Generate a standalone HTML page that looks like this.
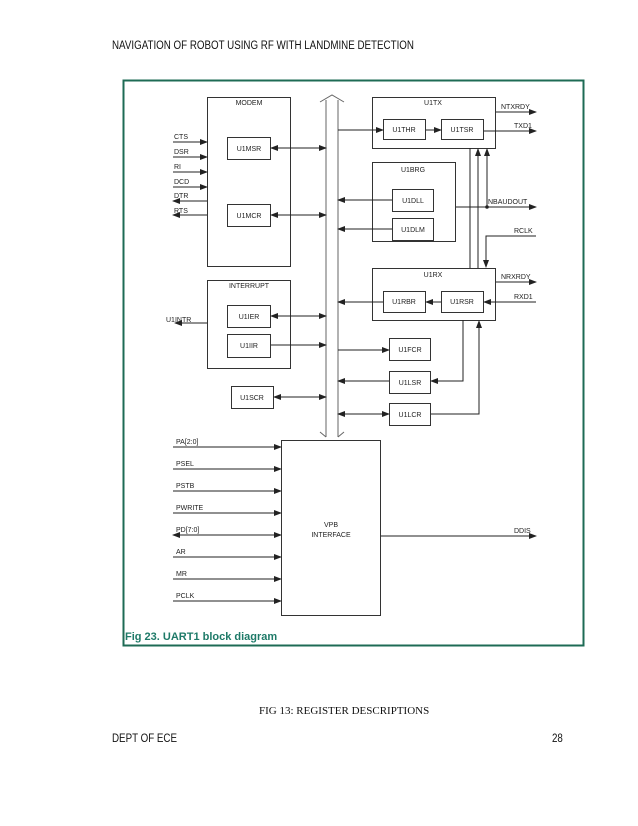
<!DOCTYPE html>
<html><head><style>
body{margin:0;width:638px;height:826px;background:#fff;position:relative;overflow:hidden}
.t{position:absolute;font-family:"Liberation Sans",sans-serif;font-size:11px;color:#111;white-space:nowrap}
.c{transform:scaleX(0.85);transform-origin:0 0}
</style></head><body>
<div class="t c" style="left:112px;top:40px;font-size:11.5px">NAVIGATION OF ROBOT USING RF WITH LANDMINE DETECTION</div>
<div class="t" style="left:259px;top:705px;font-family:'Liberation Serif',serif;font-size:11px">FIG 13: REGISTER DESCRIPTIONS</div>
<div class="t c" style="left:112px;top:733px;font-size:11.5px">DEPT OF ECE</div>
<div class="t c" style="left:552px;top:733px;font-size:11.5px">28</div>
<svg width="638" height="826" style="position:absolute;left:0;top:0" font-family="Liberation Sans,sans-serif" font-size="7" fill="#222">
<defs>
<marker id="a" markerWidth="8" markerHeight="6" refX="7" refY="3" orient="auto" markerUnits="userSpaceOnUse"><path d="M0,0L8,3L0,6z" fill="#222"/></marker>
<marker id="b" markerWidth="8" markerHeight="6" refX="1" refY="3" orient="auto" markerUnits="userSpaceOnUse"><path d="M8,0L0,3L8,6z" fill="#222"/></marker>
</defs>
<rect x="123.5" y="80.5" width="460" height="565" fill="none" stroke="#1e6b55" stroke-width="2"/>
<text x="125" y="640" font-size="11" font-weight="bold" fill="#1e7a68">Fig 23. UART1 block diagram</text>
<g stroke="#333" stroke-width="1" fill="none">
<path d="M326,437V100 M338,437V100 M320,102L332,95L344,102" stroke="#666"/>
<path d="M320,432L326,437 M344,432L338,437" stroke="#666"/>
<rect x="207.5" y="97.5" width="83" height="169"/>
<rect x="227.5" y="137.5" width="43" height="22"/>
<rect x="227.5" y="204.5" width="43" height="22"/>
<rect x="207.5" y="280.5" width="83" height="88"/>
<rect x="227.5" y="305.5" width="43" height="22"/>
<rect x="227.5" y="334.5" width="43" height="23"/>
<rect x="231.5" y="386.5" width="42" height="22"/>
<rect x="372.5" y="97.5" width="123" height="51"/>
<rect x="383.5" y="119.5" width="42" height="20"/>
<rect x="441.5" y="119.5" width="42" height="20"/>
<rect x="372.5" y="162.5" width="83" height="79"/>
<rect x="392.5" y="189.5" width="41" height="22"/>
<rect x="392.5" y="218.5" width="41" height="22"/>
<rect x="372.5" y="268.5" width="123" height="52"/>
<rect x="383.5" y="291.5" width="42" height="21"/>
<rect x="441.5" y="291.5" width="42" height="21"/>
<rect x="389.5" y="338.5" width="41" height="22"/>
<rect x="389.5" y="371.5" width="41" height="22"/>
<rect x="389.5" y="403.5" width="41" height="22"/>
<rect x="281.5" y="440.5" width="99" height="175"/>
</g>
<g stroke="#222" stroke-width="1" fill="none">
<line x1="173" y1="142" x2="207" y2="142" marker-end="url(#a)"/>
<line x1="173" y1="157" x2="207" y2="157" marker-end="url(#a)"/>
<line x1="173" y1="172" x2="207" y2="172" marker-end="url(#a)"/>
<line x1="173" y1="187" x2="207" y2="187" marker-end="url(#a)"/>
<line x1="207" y1="201" x2="173" y2="201" marker-end="url(#a)"/>
<line x1="207" y1="215" x2="173" y2="215" marker-end="url(#a)"/>
<line x1="207" y1="323" x2="175" y2="323" marker-end="url(#a)"/>
<line x1="271" y1="148" x2="326" y2="148" marker-start="url(#b)" marker-end="url(#a)"/>
<line x1="271" y1="215" x2="326" y2="215" marker-start="url(#b)" marker-end="url(#a)"/>
<line x1="271" y1="316" x2="326" y2="316" marker-start="url(#b)" marker-end="url(#a)"/>
<line x1="271" y1="345" x2="326" y2="345" marker-end="url(#a)"/>
<line x1="274" y1="397" x2="326" y2="397" marker-start="url(#b)" marker-end="url(#a)"/>
<line x1="338" y1="130" x2="383" y2="130" marker-end="url(#a)"/>
<line x1="426" y1="130" x2="441" y2="130" marker-end="url(#a)"/>
<line x1="484" y1="131" x2="536" y2="131" marker-end="url(#a)"/>
<line x1="496" y1="112" x2="536" y2="112" marker-end="url(#a)"/>
<line x1="392" y1="200" x2="338" y2="200" marker-end="url(#a)"/>
<line x1="392" y1="229" x2="338" y2="229" marker-end="url(#a)"/>
<line x1="456" y1="207" x2="536" y2="207" marker-end="url(#a)"/>
<line x1="470" y1="268" x2="470" y2="148"/>
<line x1="478" y1="268" x2="478" y2="149" marker-end="url(#a)"/>
<line x1="487" y1="207" x2="487" y2="149" marker-end="url(#a)"/>
<path d="M536,236H486V267" marker-end="url(#a)"/>
<line x1="496" y1="282" x2="536" y2="282" marker-end="url(#a)"/>
<line x1="536" y1="302" x2="484" y2="302" marker-end="url(#a)"/>
<line x1="441" y1="302" x2="426" y2="302" marker-end="url(#a)"/>
<line x1="383" y1="302" x2="338" y2="302" marker-end="url(#a)"/>
<line x1="338" y1="350" x2="389" y2="350" marker-end="url(#a)"/>
<path d="M463,320V381H431" marker-end="url(#a)"/>
<line x1="389" y1="381" x2="338" y2="381" marker-end="url(#a)"/>
<line x1="338" y1="414" x2="389" y2="414" marker-start="url(#b)" marker-end="url(#a)"/>
<path d="M431,414H479V321" marker-end="url(#a)"/>
<line x1="173" y1="447" x2="281" y2="447" marker-end="url(#a)"/>
<line x1="173" y1="469" x2="281" y2="469" marker-end="url(#a)"/>
<line x1="173" y1="491" x2="281" y2="491" marker-end="url(#a)"/>
<line x1="173" y1="513" x2="281" y2="513" marker-end="url(#a)"/>
<line x1="173" y1="535" x2="281" y2="535" marker-start="url(#b)" marker-end="url(#a)"/>
<line x1="173" y1="557" x2="281" y2="557" marker-end="url(#a)"/>
<line x1="173" y1="579" x2="281" y2="579" marker-end="url(#a)"/>
<line x1="173" y1="601" x2="281" y2="601" marker-end="url(#a)"/>
<line x1="381" y1="536" x2="536" y2="536" marker-end="url(#a)"/>
</g>
<circle cx="487" cy="207" r="1.8" fill="#222"/>
<g text-anchor="middle">
<text x="249" y="105">MODEM</text><text x="249" y="151">U1MSR</text><text x="249" y="218">U1MCR</text>
<text x="249" y="288">INTERRUPT</text><text x="249" y="319">U1IER</text><text x="249" y="348">U1IIR</text>
<text x="252" y="400">U1SCR</text>
<text x="433" y="105">U1TX</text><text x="404" y="132">U1THR</text><text x="462" y="132">U1TSR</text>
<text x="413" y="172">U1BRG</text><text x="413" y="203">U1DLL</text><text x="413" y="232">U1DLM</text>
<text x="433" y="277">U1RX</text><text x="404" y="304">U1RBR</text><text x="462" y="304">U1RSR</text>
<text x="410" y="352">U1FCR</text><text x="410" y="385">U1LSR</text><text x="410" y="417">U1LCR</text>
<text x="331" y="527">VPB</text><text x="331" y="537">INTERFACE</text>
</g>
<g>
<text x="174" y="139">CTS</text><text x="174" y="154">DSR</text><text x="174" y="169">RI</text>
<text x="174" y="184">DCD</text><text x="174" y="198">DTR</text><text x="174" y="213">RTS</text>
<text x="166" y="322">U1INTR</text>
<text x="501" y="109">NTXRDY</text><text x="514" y="128">TXD1</text>
<text x="488" y="204">NBAUDOUT</text><text x="514" y="233">RCLK</text>
<text x="501" y="279">NRXRDY</text><text x="514" y="299">RXD1</text>
<text x="176" y="444">PA[2:0]</text><text x="176" y="466">PSEL</text><text x="176" y="488">PSTB</text>
<text x="176" y="510">PWRITE</text><text x="176" y="532">PD[7:0]</text><text x="176" y="554">AR</text>
<text x="176" y="576">MR</text><text x="176" y="598">PCLK</text>
<text x="514" y="533">DDIS</text>
</g>
</svg>
</body></html>
